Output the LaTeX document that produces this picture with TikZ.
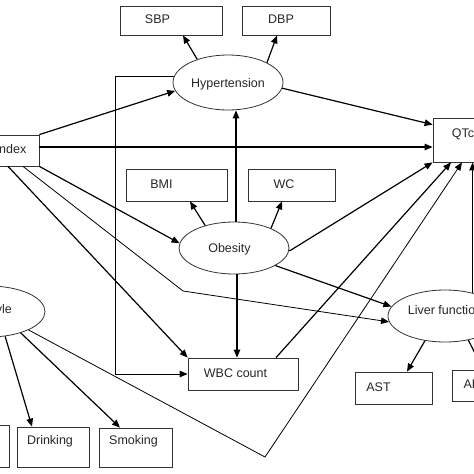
\documentclass[tikz,border=0pt]{standalone}
\usepackage{fontspec}
\setmainfont{Liberation Sans}
\usetikzlibrary{arrows.meta,shapes.geometric}
\begin{document}
\begin{tikzpicture}[x=1pt,y=-1pt,
  lbl/.style={font=\fontsize{12.5}{15}\selectfont, text=black!85, inner sep=0pt, text height=9pt, text depth=3pt},
  box/.style={lbl, draw=black!80, line width=0.8pt, rectangle},
  ell/.style={lbl, draw=black!80, line width=0.8pt, ellipse, text depth=0pt},
  arr/.style={line width=1.2pt, -{Triangle[length=8pt,width=6.5pt]}},
  thinarr/.style={line width=0.8pt, -{Triangle[length=8pt,width=6.5pt]}}]
\useasboundingbox (0,0) rectangle (474,474);
\clip (0,0) rectangle (474,474);
% ellipses
\node[ell, minimum width=110pt, minimum height=55pt] (hyp) at (228,82.5) {Hypertension};
\node[ell, minimum width=110pt, minimum height=52pt] (obe) at (234,248) {Obesity\hspace*{9pt}};
\node[ell, minimum width=114pt, minimum height=52pt, text depth=13pt] (liv) at (445,316) {Liver functio\phantom{n}};
\node[ell, minimum width=112pt, minimum height=51pt, text depth=6pt] (life) at (-11,311.5) {\phantom{Lifest}yle};
% boxes
\node[box, minimum width=102pt, minimum height=29pt] (sbp) at (171,20.5) {SBP\hspace*{27pt}};
\node[box, minimum width=88pt, minimum height=29pt] (dbp) at (286,20.5) {DBP\hspace*{10pt}};
\node[box, minimum width=56pt, minimum height=31pt] (idx) at (11,150.5) {\phantom{I}ndex};
\node[box, minimum width=60pt, minimum height=44pt, text depth=15pt] (qtc) at (463,140) {QTc};
\node[box, minimum width=101pt, minimum height=32pt] (bmi) at (176.5,185) {BMI\hspace*{30pt}};
\node[box, minimum width=87pt, minimum height=32pt] (wc) at (291.5,185) {WC\hspace*{15pt}};
\node[box, minimum width=110pt, minimum height=32pt] (wbc) at (243,374) {WBC count\hspace*{15pt}};
\node[box, minimum width=77pt, minimum height=32pt] (ast) at (393.5,388) {AST\hspace*{30pt}};
\node[box, minimum width=77pt, minimum height=31pt] (alt) at (490.5,385.5) {AL\phantom{T}\hspace*{31pt}};
\node[box, minimum width=72pt, minimum height=40pt, text depth=15pt] (drk) at (53,447) {Drinking\hspace*{6pt}};
\node[box, minimum width=73pt, minimum height=39pt, text depth=15pt] (smk) at (135.5,447.5) {Smoking\hspace*{4pt}};
\node[box, minimum width=60pt, minimum height=42pt] (lb) at (-21,446.5) {};
% bend points
\coordinate (cl) at (265,457);
\coordinate (ci) at (183,291);
\coordinate (cb) at (115,374);
% connectors
\draw[arr] (idx.north east) -- (hyp.189);
\draw[arr] ([yshift=3.5pt]idx.east) -- ([yshift=-7pt]qtc.west);
\draw[arr] (hyp.143) -- ([xshift=12pt]sbp.south);
\draw[arr] (hyp.27) -- ([xshift=-9pt]dbp.south);
\draw[arr] (hyp.354) -- ([yshift=-7pt]qtc.north west);
\draw[arr] ([xshift=2pt]obe.north) -- ([xshift=2pt]obe.north |- hyp.south);
\draw[arr] (obe.142) -- ([xshift=13.5pt]bmi.south);
\draw[arr] (obe.28) -- ([xshift=-9.5pt]wc.south);
\draw[arr] ([yshift=-3pt]obe.east) -- (qtc.south west);
\draw[arr] ([xshift=33pt]wbc.north) -- ([xshift=-12pt]qtc.south);
\draw[thinarr] (life.335) -- (cl) -- ([xshift=-1pt]qtc.south);
\draw[arr] (liv.40.5) -- (liv.40.5 |- qtc.south);
\draw[arr] (obe.337) -- (liv.170);
\draw[thinarr] ([xshift=12pt]idx.south) -- (ci) -- (liv.186);
\draw[arr] (idx.south east) -- (obe.175);
\draw[arr] ([xshift=-3pt]idx.south) -- (wbc.north west);
\draw[thinarr] (hyp.174) -| (cb) -- (wbc.west);
\draw[arr] ([xshift=3pt]obe.south) -- ([xshift=3pt]obe.south |- wbc.north);
\draw[arr] (liv.231) -- ([xshift=13.5pt]ast.north);
\draw[arr] (liv.314) -- ([xshift=-7pt]alt.north);
\draw[arr] (life.303) -- ([xshift=-21pt]drk.north);
\draw[arr] (life.326) -- ([xshift=-15.5pt]smk.north);
\end{tikzpicture}
\end{document}
